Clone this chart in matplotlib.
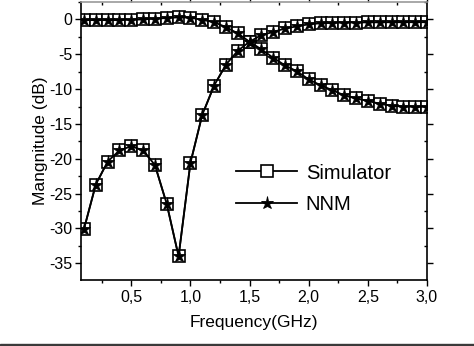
import numpy as np
import matplotlib
matplotlib.use("Agg")
import matplotlib.pyplot as plt
from matplotlib.ticker import MultipleLocator, FuncFormatter
from matplotlib.patches import Rectangle

plt.rcParams['font.family'] = ['Liberation Sans', 'DejaVu Sans']
plt.rcParams['axes.unicode_minus'] = False

# frequency points (GHz)
freq = [0.1, 0.2, 0.3, 0.4, 0.5, 0.6, 0.7, 0.8, 0.9, 1.0,
        1.1, 1.2, 1.3, 1.4, 1.5, 1.6, 1.7, 1.8, 1.9, 2.0,
        2.1, 2.2, 2.3, 2.4, 2.5, 2.6, 2.7, 2.8, 2.9, 3.0]

# reflection curve (starts near -30 dB)
sim_s11 = [-30.1, -23.7, -20.4, -18.8, -18.2, -18.8, -20.9, -26.5, -34.0, -20.6,
           -13.7, -9.5, -6.5, -4.5, -3.2, -2.25, -1.8, -1.3, -1.0, -0.7,
           -0.55, -0.5, -0.45, -0.45, -0.42, -0.42, -0.4, -0.4, -0.4, -0.4]
nnm_s11 = [-30.1, -23.7, -20.4, -18.8, -18.2, -18.8, -20.9, -26.5, -34.0, -20.6,
           -13.7, -9.5, -6.5, -4.5, -3.2, -2.25, -1.8, -1.3, -1.0, -0.7,
           -0.55, -0.5, -0.45, -0.45, -0.42, -0.42, -0.4, -0.4, -0.4, -0.4]

# transmission curve (starts near 0 dB)
sim_s21 = [-0.1, -0.1, -0.1, -0.1, -0.05, 0.0, 0.1, 0.2, 0.3, 0.25,
           -0.05, -0.4, -1.1, -2.0, -3.2, -4.3, -5.5, -6.6, -7.45, -8.6,
           -9.45, -10.15, -10.9, -11.35, -11.7, -12.1, -12.4, -12.5, -12.55, -12.55]
nnm_s21 = [-0.1, -0.1, -0.1, -0.1, -0.05, 0.0, 0.1, 0.2, 0.3, 0.25,
           -0.05, -0.4, -1.1, -2.0, -3.2, -4.3, -5.5, -6.6, -7.45, -8.6,
           -9.45, -10.15, -10.9, -11.35, -11.7, -12.1, -12.4, -12.5, -12.55, -12.55]

fig = plt.figure(figsize=(4.74, 3.46), dpi=100)
ax = fig.add_axes([81/474, 1 - 280/346, (427 - 81)/474, (280 - 2)/346])

sq = dict(color='black', lw=1.3, marker='s', ms=8.5, mfc='white', mec='black', mew=1.2)
st = dict(color='black', lw=1.3, marker='*', ms=9.5, mfc='black', mec='black', mew=0.6)

ax.plot(freq, sim_s11, label='Simulator', **sq)
ax.plot(freq, sim_s21, **sq)
ax.plot(freq, nnm_s11, label='NNM', **st)
ax.plot(freq, nnm_s21, **st)

ax.set_xlim(0.075, 3.0)
ax.set_ylim(-37.4, 2.5)

ax.xaxis.set_major_locator(MultipleLocator(0.5))
ax.xaxis.set_minor_locator(MultipleLocator(0.25))
ax.yaxis.set_major_locator(MultipleLocator(5))
ax.yaxis.set_minor_locator(MultipleLocator(2.5))
ax.xaxis.set_major_formatter(FuncFormatter(lambda v, p: ('%.1f' % v).replace('.', ',')))
ax.yaxis.set_major_formatter(FuncFormatter(lambda v, p: '%d' % round(v)))

ax.tick_params(which='both', labelsize=11.5, width=1, colors='black')
ax.tick_params(which='major', length=4)
ax.tick_params(which='minor', length=2.5)
ax.tick_params(which='both', top=True, right=True, direction='out')
# top/right ticks point inward
for t in ax.xaxis.get_major_ticks() + ax.xaxis.get_minor_ticks():
    t.tick2line.set_marker(3)
for t in ax.yaxis.get_major_ticks() + ax.yaxis.get_minor_ticks():
    t.tick2line.set_marker(0)
ax.tick_params(axis='y', pad=2)
ax.tick_params(axis='x', pad=3)

for s in ax.spines.values():
    s.set_linewidth(1.2)
ax.spines['top'].set_color('#999999')

ax.set_xlabel('Frequency(GHz)', fontsize=12.5, va='center')
ax.set_ylabel('Mangnitude (dB)', fontsize=12.5, va='center')
ax.xaxis.set_label_coords(0.5, (280 - 322) / 278)
ax.yaxis.set_label_coords((40 - 81) / 346, 0.5)

ax.legend(loc='upper left', bbox_to_anchor=(0.449, 0.419), frameon=False,
          fontsize=14.5, handlelength=3.0, handletextpad=0.45,
          labelspacing=0.6, borderpad=0, borderaxespad=0)

fig.patches.append(Rectangle((0, 0), 1, 2/346, transform=fig.transFigure,
                             color='#3a3a3a', zorder=0))

fig.savefig('out.png', dpi=100)
